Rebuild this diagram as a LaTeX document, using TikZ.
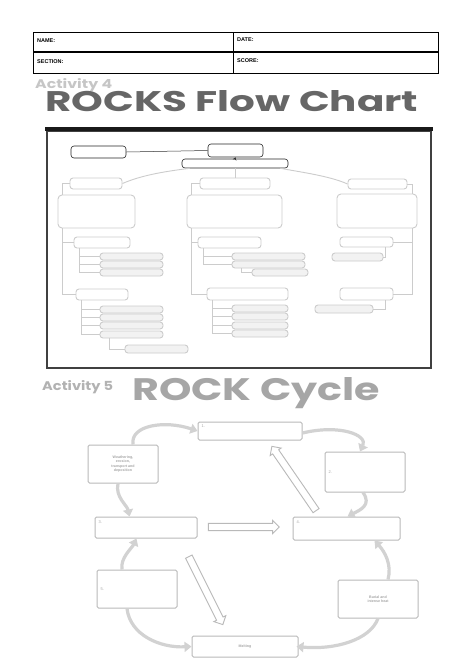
\documentclass[tikz,border=0pt]{standalone}
\usepackage{fontspec}
\setmainfont{Liberation Sans}
\newfontfamily\ttlfont{Poppins}
\usepackage{graphicx}
\usetikzlibrary{arrows.meta,shapes.arrows,calc}
\newcommand\placebox[7]{\node[#1,minimum width={(#5-#3)*1pt},minimum height={(#6-#4)*1pt},inner sep=0pt] (#2) at ({(#3+#5)/2},{(#4+#6)/2}) {#7};}
\tikzset{
  lab/.style={font=\fontsize{5.5}{6}\selectfont\bfseries,anchor=west,inner sep=0pt},
  topbox/.style={draw=black!85,rounded corners=3pt,line width=0.6pt},
  fbox/.style={draw=gray!40,rounded corners=4pt,line width=0.9pt},
  sbox/.style={draw=gray!40,rounded corners=3pt,line width=0.9pt},
  bar/.style={draw=gray!40,fill=gray!10,rounded corners=3pt,line width=0.9pt},
  flow/.style={draw=gray!40,line width=0.9pt},
  cbox/.style={draw=gray!55,line width=1pt,rounded corners=1.5pt,fill=white,
    font=\fontsize{3.6}{4.2}\selectfont\bfseries,text=gray!70,align=center},
  num/.style={font=\fontsize{4}{4}\selectfont,text=gray!70,inner sep=0pt,anchor=north west},
  cyc/.style={draw=gray!35,line width=3.2pt,-{Triangle[length=7pt,width=10pt]}},
  blk/.style={single arrow,draw=gray!55,fill=white,line width=0.9pt,inner sep=3.2pt,
    single arrow head extend=3pt,single arrow head indent=0pt}
}
\begin{document}
\begin{tikzpicture}[x=1pt,y=-1pt]
\useasboundingbox (0,0) rectangle (474,670);
\fill[white] (0,0) rectangle (474,670);

% header form
\draw[line width=0.9pt] (33,32) rectangle (438,73);
\draw[line width=1.3pt] (33,52) -- (438,52);
\draw[line width=0.9pt] (233,32) -- (233,73);
\node[lab] (name) at (37,41) {NAME:};
\node[lab] (date) at (237,40) {DATE:};
\node[lab] (section) at (37,62) {SECTION:};
\node[lab] (score) at (237,61) {SCORE:};

% titles
\node[anchor=base west,inner sep=0pt,text=gray!45] (act4) at (35,88) {\resizebox{77pt}{10pt}{\ttlfont\bfseries Activity 4}};
\node[anchor=base west,inner sep=0pt,text=black!60] (t1) at (45,111) {\resizebox{373pt}{21pt}{\ttlfont\bfseries ROCKS Flow Chart}};

% flow chart frame
\draw[line width=2.5pt,black!75] (47,131) rectangle (431,368);
\draw[line width=4pt,black!90] (45,129) -- (433,129);

% flow chart top nodes
\placebox{topbox}{tl}{71}{146}{126}{158}{}
\placebox{topbox}{tc}{208}{144}{263}{157}{}
\placebox{topbox}{cb}{182}{159}{288}{168}{}
\draw[black!80,line width=0.5pt] (tl.east) -- (tc.west);
\draw[black!80,line width=0.5pt,-{Stealth[length=3pt,width=4pt]}] (cb.north) -- (tc.south);

% column 1
\placebox{sbox}{c1a}{70}{178}{122}{189}{}
\placebox{fbox}{c1b}{58}{195}{135}{228}{}
\placebox{sbox}{c1c}{74}{237}{130}{248}{}
\placebox{bar}{b11}{100}{253}{163}{260}{}
\placebox{bar}{b12}{100}{261}{163}{268}{}
\placebox{bar}{b13}{100}{269}{163}{276}{}
\placebox{sbox}{c1d}{76}{289}{128}{300}{}
\placebox{bar}{b14}{100}{306}{163}{313}{}
\placebox{bar}{b15}{100}{314}{163}{321}{}
\placebox{bar}{b16}{100}{322}{163}{329}{}
\placebox{bar}{b17}{100}{331}{163}{338}{}
\placebox{bar}{b18}{125}{345}{188}{353}{}

% column 2
\placebox{sbox}{c2a}{200}{178}{270}{189}{}
\placebox{fbox}{c2b}{187}{195}{282}{228}{}
\placebox{sbox}{c2c}{198}{237}{261}{248}{}
\placebox{bar}{b21}{232}{253}{305}{260}{}
\placebox{bar}{b22}{232}{261}{305}{268}{}
\placebox{bar}{b23}{252}{269}{308}{276}{}
\placebox{sbox}{c2d}{207}{288}{288}{300}{}
\placebox{bar}{b24}{232}{305}{288}{312}{}
\placebox{bar}{b25}{232}{313}{288}{320}{}
\placebox{bar}{b26}{232}{322}{288}{329}{}
\placebox{bar}{b27}{232}{330}{288}{337}{}

% column 3
\placebox{sbox}{c3a}{348}{179}{407}{189}{}
\placebox{fbox}{c3b}{337}{194}{417}{228}{}
\placebox{sbox}{c3c}{340}{237}{393}{247}{}
\placebox{bar}{b31}{332}{253}{383}{261}{}
\placebox{sbox}{c3d}{340}{288}{393}{300}{}
\placebox{bar}{b32}{315}{305}{373}{313}{}

% flow connectors
\draw[flow] ([xshift=8pt]cb.south west) .. controls (160,172) and (140,176) .. (c1a.east);
\draw[flow] ([xshift=-8pt]cb.south east) .. controls (300,172) and (330,176) .. (c3a.west);
\draw[flow] (cb.south) -- (c2a.north -| cb.south);
\draw[flow] (c1a.west) -| ([xshift=5pt]c1b.north west);
\draw[flow] (c2a.west) -| ([xshift=5pt]c2b.north west);
\draw[flow] (c3a.east) -| ([xshift=-5pt]c3b.north east);
\draw[flow] ([xshift=5pt]c1b.south west) |- (c1c.west);
\draw[flow] ([xshift=5pt]c1b.south west) |- (c1d.west);
\draw[flow] ([xshift=6pt]c1c.south west) |- (b11.west);
\draw[flow] ([xshift=6pt]c1c.south west) |- (b12.west);
\draw[flow] ([xshift=6pt]c1c.south west) |- (b13.west);
\draw[flow] ([xshift=6pt]c1d.south west) |- (b14.west);
\draw[flow] ([xshift=6pt]c1d.south west) |- (b15.west);
\draw[flow] ([xshift=6pt]c1d.south west) |- (b16.west);
\draw[flow] ([xshift=6pt]c1d.south west) |- (b17.west);
\draw[flow] ([xshift=10pt]b17.south west) |- (b18.west);
\draw[flow] ([xshift=5pt]c2b.south west) |- (c2c.west);
\draw[flow] ([xshift=5pt]c2b.south west) |- (c2d.west);
\draw[flow] ([xshift=6pt]c2c.south west) |- (b21.west);
\draw[flow] ([xshift=6pt]c2c.south west) |- (b22.west);
\draw[flow] ([xshift=10pt]b22.south west) |- (b23.west);
\draw[flow] ([xshift=6pt]c2d.south west) |- (b24.west);
\draw[flow] ([xshift=6pt]c2d.south west) |- (b25.west);
\draw[flow] ([xshift=6pt]c2d.south west) |- (b26.west);
\draw[flow] ([xshift=6pt]c2d.south west) |- (b27.west);
\draw[flow] ([xshift=-5pt]c3b.south east) |- (c3c.east);
\draw[flow] ([xshift=-5pt]c3b.south east) |- (c3d.east);
\draw[flow] ([xshift=-8pt]c3c.south east) |- (b31.east);
\draw[flow] ([xshift=-8pt]c3d.south east) |- (b32.east);

% rock cycle title
\node[anchor=base west,inner sep=0pt,text=gray!60] (act5) at (42,390) {\resizebox{71pt}{10pt}{\ttlfont\bfseries Activity 5}};
\node[anchor=base west,inner sep=0pt,text=gray!70] (t2) at (132,400) {\resizebox{248pt}{23pt}{\ttlfont\bfseries ROCK Cycle}};

% rock cycle boxes
\placebox{cbox}{r1}{198}{422}{302}{440}{}
\placebox{cbox}{rw}{88}{445}{158}{483}{Weathering,\\ erosion,\\ transport and\\ deposition}
\placebox{cbox}{r2}{325}{452}{405}{492}{}
\placebox{cbox}{r3}{95}{517}{197}{538}{}
\placebox{cbox}{r4}{293}{517}{400}{540}{}
\placebox{cbox}{r5}{97}{570}{177}{608}{}
\placebox{cbox}{rb}{338}{580}{418}{618}{Burial and\\ intense heat}
\placebox{cbox}{rm}{192}{636}{298}{657}{Melting}
\node[num] (n1) at ([xshift=4pt,yshift=-3pt]r1.north west) {1.};
\node[num,anchor=west] (n2) at ([xshift=4pt]r2.west) {2.};
\node[num] (n3) at ([xshift=4pt,yshift=-4pt]r3.north west) {3.};
\node[num] (n4) at ([xshift=4pt,yshift=-4pt]r4.north west) {4.};
\node[num,anchor=west] (n5) at ([xshift=4pt]r5.west) {5.};

% block arrows
\node[blk,minimum height=71pt] (ha) at (242,527) {};
\node[blk,minimum height=78pt,rotate=124.5] (ua) at (295,480) {};
\node[blk,minimum height=76pt,rotate=-63.4] (da) at (205,589) {};

% curved cycle arrows
\draw[cyc] ([xshift=10pt]rw.north) .. controls (130,425) and (165,420) .. (r1.west);
\draw[cyc] ([yshift=-2pt]r1.east) .. controls (340,424) and (368,435) .. ([xshift=-5pt]r2.north);
\draw[cyc] ([xshift=-2pt]r2.south) .. controls (372,505) and (360,510) .. ([xshift=55pt]r4.north west);
\draw[cyc] ([xshift=-5pt]rw.south) .. controls (115,497) and (127,505) .. ([xshift=35pt]r3.north west);
\draw[cyc] ([xshift=-15pt]r5.north) .. controls (120,558) and (132,548) .. ([xshift=42pt]r3.south west);
\draw[cyc] ([xshift=-10pt]r5.south) .. controls (130,635) and (160,648) .. (rm.west);
\draw[cyc] (rb.south) .. controls (370,640) and (335,650) .. ([xshift=-2pt]rm.east);
\draw[cyc] ([xshift=10pt]rb.north) .. controls (392,565) and (385,552) .. ([xshift=82pt]r4.south west);
\end{tikzpicture}
\end{document}
